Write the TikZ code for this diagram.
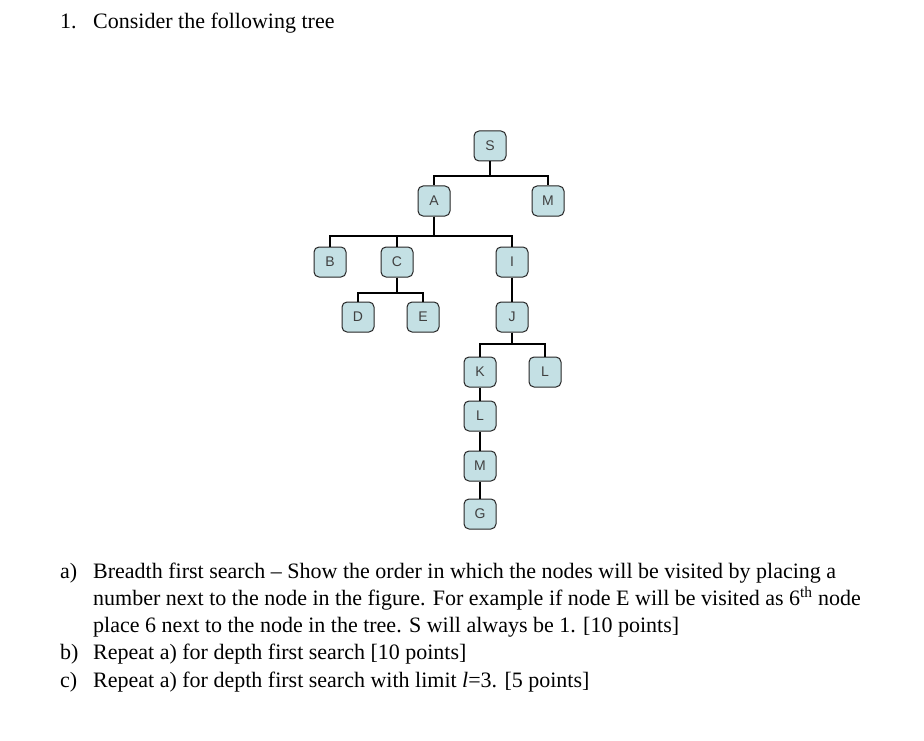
\documentclass[tikz,border=0pt]{standalone}
\usepackage{fontspec}
\setmainfont{Liberation Serif}
\newfontfamily\nodefont{Liberation Sans}
\definecolor{nodefill}{HTML}{C4E0E4}
\begin{document}
\begin{tikzpicture}[x=1pt,y=-1pt,
  tn/.style={draw=black!85,line width=1pt,fill=nodefill,rounded corners=5pt,minimum width=32pt,minimum height=30pt,inner sep=0pt,font=\nodefont\fontsize{14}{14}\selectfont,text=black!75},
  ln/.style={line width=2pt},
  tx/.style={anchor=base west,inner sep=0pt,font=\fontsize{22}{26}\selectfont}]
\useasboundingbox[fill=white] (0,0) rectangle (924,741);
\node[tn] (S) at (490,146) {S};
\node[tn] (A) at (434,201) {A};
\node[tn] (M) at (548,201) {M};
\node[tn] (B) at (330,262) {B};
\node[tn] (C) at (397,262) {C};
\node[tn] (I) at (512,262) {I};
\node[tn] (D) at (358,317) {D};
\node[tn] (E) at (423,317) {E};
\node[tn] (J) at (512,317) {J};
\node[tn] (K) at (480,372) {K};
\node[tn] (L) at (545,372) {L};
\node[tn] (L2) at (480,416) {L};
\node[tn] (M2) at (480,466) {M};
\node[tn] (G) at (480,514) {G};
\draw[ln] (S.south) |- (434,176) -- (A.north);
\draw[ln] (S.south) |- (548,176) -- (M.north);
\draw[ln] (A.south) |- (330,236) -- (B.north);
\draw[ln] (A.south) |- (512,236) -- (I.north);
\draw[ln] (397,236) -- (C.north);
\draw[ln] (C.south) |- (358,293) -- (D.north);
\draw[ln] (C.south) |- (423,293) -- (E.north);
\draw[ln] (I) -- (J);
\draw[ln] (J.south) |- (480,344) -- (K.north);
\draw[ln] (J.south) |- (545,344) -- (L.north);
\draw[ln] (K) -- (L2);
\draw[ln] (L2) -- (M2);
\draw[ln] (M2) -- (G);
\node[tx] (t0) at (60,29) {1.};
\node[tx] (t1) at (93,29) {Consider the following tree};
\node[tx] (a) at (60,578) {a)};
\node[tx] (a1) at (93,578) {Breadth first search -- Show the order in which the nodes will be visited by placing a};
\node[tx] (a2) at (93,605) {number next to the node in the figure. For example if node E will be visited as 6\textsuperscript{th} node};
\node[tx] (a3) at (93,632) {place 6 next to the node in the tree. S will always be 1. [10 points]};
\node[tx] (b) at (60,659) {b)};
\node[tx] (b1) at (93,659) {Repeat a) for depth first search [10 points]};
\node[tx] (c) at (60,687) {c)};
\node[tx] (c1) at (93,687) {Repeat a) for depth first search with limit \textit{l}=3. [5 points]};
\end{tikzpicture}
\end{document}
